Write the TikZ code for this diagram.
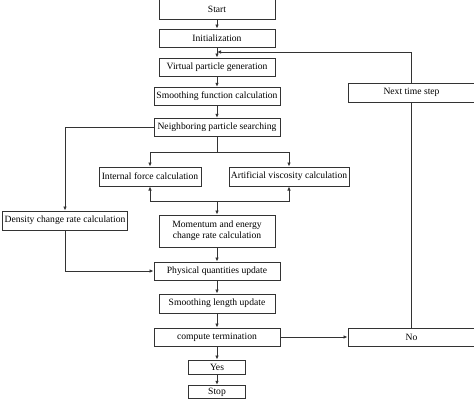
\documentclass[tikz,border=0pt]{standalone}
\usepackage{fontspec}
\setmainfont{Liberation Serif}
\usetikzlibrary{arrows.meta}
\definecolor{lc}{HTML}{333333}
\begin{document}
\begin{tikzpicture}[x=1pt,y=-1pt,
  box/.style={draw=lc,line width=1pt,minimum width=#1,inner sep=0pt,align=center,font=\fontsize{9.6}{11.2}\selectfont,text=black},
  conn/.style={draw=lc,line width=1pt},
  arr/.style={conn,-{Latex[length=4pt,width=3.6pt]}}]
\useasboundingbox (0,0) rectangle (474,402);
\clip (0,0) rectangle (474,402);
\node[box=116pt,minimum height=20pt] (start) at (217,9) {Start};
\node[box=116pt,minimum height=18pt] (init) at (217,38) {Initialization};
\node[box=116pt,minimum height=18pt] (vpg) at (217,67) {Virtual particle generation};
\node[box=126pt,minimum height=18.5pt] (sfc) at (217,96.5) {Smoothing function calculation};
\node[box=126pt,minimum height=18.5pt] (nps) at (217,127.5) {Neighboring particle searching};
\node[box=102pt,minimum height=19pt] (ifc) at (150,176.5) {Internal force calculation};
\node[box=120pt,minimum height=19pt] (avc) at (289,176.5) {Artificial viscosity calculation};
\node[box=125pt,minimum height=19pt] (dcr) at (65,220.5) {Density change rate calculation};
\node[box=116pt,minimum height=32pt] (mom) at (217,231) {Momentum and energy\\change rate calculation};
\node[box=126pt,minimum height=18pt] (pqu) at (217,271) {Physical quantities update};
\node[box=116pt,minimum height=19pt] (slu) at (217,303.5) {Smoothing length update};
\node[box=126pt,minimum height=18pt] (ct) at (217,337) {compute termination};
\node[box=57pt,minimum height=14pt] (yes) at (217,367) {Yes};
\node[box=57pt,minimum height=13.5pt] (stop) at (217,392) {Stop};
\node[box=127pt,minimum height=19pt] (nts) at (411.5,92.5) {Next time step};
\node[box=127pt,minimum height=18pt] (no) at (411.5,337) {No};
\coordinate (split) at (217,152.7);
\coordinate (merge) at (217,201.7);
\coordinate (loopin) at (217,52);
\draw[arr] (start) -- (init);
\draw[arr] (init) -- (vpg);
\draw[arr] (vpg) -- (sfc);
\draw[arr] (sfc) -- (nps);
\draw[conn] (nps.south) -- (split);
\draw[arr] (split) -| (ifc.north);
\draw[arr] (split) -| (avc.north);
\draw[arr] (merge) -| (ifc.south);
\draw[arr] (merge) -| (avc.south);
\draw[arr] (merge) -- (mom.north);
\draw[arr] (mom) -- (pqu);
\draw[arr] (nps.west) -| (dcr.north);
\draw[arr] (dcr.south) |- (pqu.west);
\draw[arr] (pqu) -- (slu);
\draw[arr] (slu) -- (ct);
\draw[arr] (ct) -- (yes);
\draw[arr] (yes) -- (stop);
\draw[arr] (ct) -- (no);
\draw[conn] (no.north -| 411,0) -- (nts.south -| 411,0);
\draw[arr] (nts.north -| 411,0) |- (loopin);
\end{tikzpicture}
\end{document}
